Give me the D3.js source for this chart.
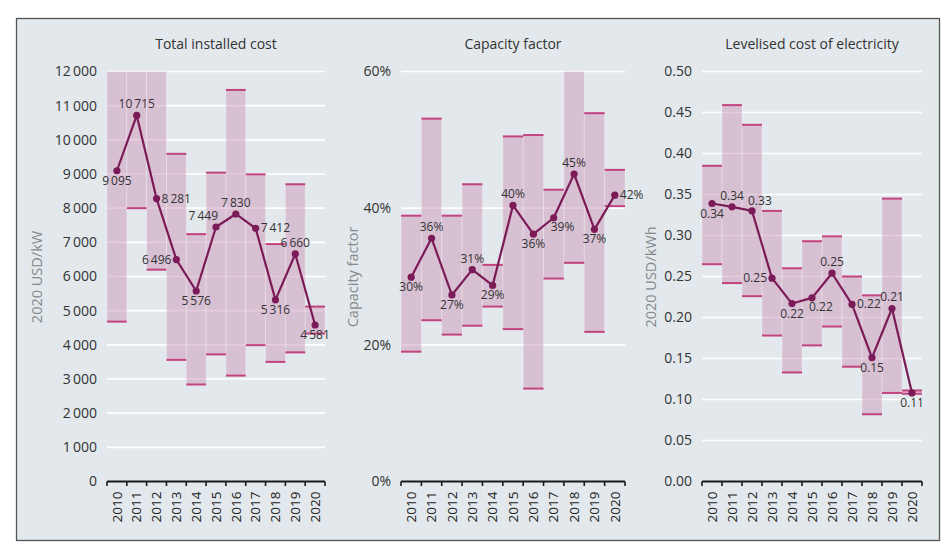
<!DOCTYPE html>
<html>
<head>
<meta charset="utf-8">
<script src="https://cdn.jsdelivr.net/npm/d3@7"></script>
<style>
  body { margin: 0; background: #fff; }
  svg { display: block; font-family: "Open Sans", sans-serif; }
</style>
</head>
<body>
<svg id="chart" width="948" height="551"></svg>
<script>
const years = [2010, 2011, 2012, 2013, 2014, 2015, 2016, 2017, 2018, 2019, 2020];

// total installed cost, 2020 USD/kW
const costLow = [4680, 8000, 6200, 3560, 2840, 3720, 3100, 3990, 3500, 3780, 4330];
const costHigh = [12500, 12500, 12500, 9590, 7240, 9040, 11460, 8990, 6950, 8700, 5120];
const costAvg = [9095, 10715, 8281, 6496, 5576, 7449, 7830, 7412, 5316, 6660, 4581];
const costTicks = [0, 1000, 2000, 3000, 4000, 5000, 6000, 7000, 8000, 9000, 10000, 11000, 12000];
const costLabelPos = ["below", "above", "right", "left", "below", "aboveLeft", "above", "right", "below", "above", "below"];

// capacity factor
const cfLow = [0.19, 0.236, 0.215, 0.228, 0.256, 0.223, 0.136, 0.297, 0.32, 0.219, 0.403];
const cfHigh = [0.389, 0.531, 0.389, 0.435, 0.317, 0.505, 0.507, 0.427, 0.62, 0.539, 0.456];
const cfAvg = [0.299, 0.356, 0.273, 0.31, 0.287, 0.404, 0.362, 0.386, 0.45, 0.369, 0.419];
const cfTicks = [0, 0.2, 0.4, 0.6];
const cfLabelPos = ["below", "above", "below", "above", "below", "above", "below", "belowRight", "above", "below", "right"];

// levelised cost of electricity, 2020 USD/kWh
const lcoeLow = [0.265, 0.242, 0.226, 0.178, 0.133, 0.166, 0.189, 0.14, 0.082, 0.108, 0.107];
const lcoeHigh = [0.385, 0.459, 0.435, 0.330, 0.260, 0.293, 0.299, 0.250, 0.227, 0.345, 0.111];
const lcoeAvg = [0.339, 0.335, 0.330, 0.248, 0.217, 0.224, 0.254, 0.216, 0.151, 0.211, 0.108];
const lcoeTicks = [0, 0.05, 0.1, 0.15, 0.2, 0.25, 0.3, 0.35, 0.4, 0.45, 0.5];
const lcoeLabelPos = ["below", "above", "aboveRight", "left", "below", "belowRight", "above", "right", "below", "above", "below"];

const svg = d3.select("#chart");

svg.append("rect")
  .attr("x", 16.5).attr("y", 18.5)
  .attr("width", 923).attr("height", 522)
  .attr("fill", "#e2e8eb")
  .attr("stroke", "#555")
  .attr("stroke-width", 1.3);

const spaceFmt = d3.formatLocale({ decimal: ".", thousands: "\u2009", grouping: [3], currency: ["", ""] }).format(",d");

const panels = [
  {
    title: "Total installed cost", yTitle: "2020 USD/kW",
    x0: 107, x1: 325, titleX: 216, yTitleX: 42,
    max: 12000, ticks: costTicks, tickFmt: spaceFmt, labelFmt: spaceFmt,
    low: costLow, high: costHigh, avg: costAvg, pos: costLabelPos
  },
  {
    title: "Capacity factor", yTitle: "Capacity factor",
    x0: 401, x1: 625, titleX: 513, yTitleX: 358,
    max: 0.6, ticks: cfTicks, tickFmt: d3.format(".0%"), labelFmt: d3.format(".0%"),
    low: cfLow, high: cfHigh, avg: cfAvg, pos: cfLabelPos
  },
  {
    title: "Levelised cost of electricity", yTitle: "2020 USD/kWh",
    x0: 702, x1: 922, titleX: 812, yTitleX: 656,
    max: 0.5, ticks: lcoeTicks, tickFmt: d3.format(".2f"), labelFmt: d3.format(".2f"),
    low: lcoeLow, high: lcoeHigh, avg: lcoeAvg, pos: lcoeLabelPos
  }
];

const yTop = 71.5, yBottom = 481.5;

panels.forEach(drawPanel);

function drawPanel(p) {
  const g = svg.append("g");
  const x = d3.scaleBand().domain(years).range([p.x0, p.x1]).padding(0);
  const y = d3.scaleLinear().domain([0, p.max]).range([yBottom, yTop]);
  const rows = years.map((yr, i) => ({ year: yr, low: p.low[i], high: p.high[i], avg: p.avg[i], pos: p.pos[i] }));

  g.append("text")
    .attr("x", p.titleX).attr("y", 49)
    .attr("text-anchor", "middle")
    .attr("font-size", 14)
    .attr("fill", "#333")
    .text(p.title);

  g.append("text")
    .attr("transform", `translate(${p.yTitleX},277) rotate(-90)`)
    .attr("text-anchor", "middle")
    .attr("font-size", 14.5)
    .attr("fill", "#858a8d")
    .text(p.yTitle);

  // gridlines
  g.append("g")
    .selectAll("line")
    .data(p.ticks.filter(t => t > 0))
    .join("line")
    .attr("x1", p.x0).attr("x2", p.x1)
    .attr("y1", d => y(d)).attr("y2", d => y(d))
    .attr("stroke", "#fff")
    .attr("stroke-width", 1.6);

  // y tick labels
  const yAxis = g.append("g")
    .attr("transform", `translate(${p.x0},0)`)
    .call(d3.axisLeft(y).tickValues(p.ticks).tickFormat(p.tickFmt).tickSize(0).tickPadding(10));
  yAxis.select(".domain").remove();
  yAxis.selectAll("text")
    .attr("font-family", "Open Sans, sans-serif")
    .attr("font-size", 14)
    .attr("fill", "#333");

  // range bars
  g.append("g")
    .selectAll("rect")
    .data(rows)
    .join("rect")
    .attr("x", d => x(d.year))
    .attr("width", x.bandwidth())
    .attr("y", d => y(Math.min(d.high, p.max)))
    .attr("height", d => y(d.low) - y(Math.min(d.high, p.max)))
    .attr("fill", "#ce97bb")
    .attr("fill-opacity", 0.5)
    .attr("stroke", "#fff")
    .attr("stroke-opacity", 0.35)
    .attr("stroke-width", 0.8);

  // caps
  const caps = g.append("g").attr("stroke", "#c2437f").attr("stroke-width", 2);
  caps.selectAll(".low")
    .data(rows)
    .join("line")
    .attr("class", "low")
    .attr("x1", d => x(d.year)).attr("x2", d => x(d.year) + x.bandwidth())
    .attr("y1", d => y(d.low)).attr("y2", d => y(d.low));
  caps.selectAll(".high")
    .data(rows.filter(d => d.high <= p.max))
    .join("line")
    .attr("class", "high")
    .attr("x1", d => x(d.year)).attr("x2", d => x(d.year) + x.bandwidth())
    .attr("y1", d => y(d.high)).attr("y2", d => y(d.high));

  // x axis
  const xAxis = g.append("g")
    .attr("transform", `translate(0,${yBottom})`)
    .call(d3.axisBottom(x).tickSize(0).tickPadding(10));
  xAxis.select(".domain").remove();
  xAxis.selectAll("text")
    .attr("font-family", "Open Sans, sans-serif")
    .attr("font-size", 13.5)
    .attr("fill", "#222")
    .attr("transform", "rotate(-90)")
    .attr("text-anchor", "end")
    .attr("dy", "0.35em")
    .attr("x", -10)
    .attr("y", 0);

  g.append("line")
    .attr("x1", p.x0).attr("x2", p.x1)
    .attr("y1", yBottom).attr("y2", yBottom)
    .attr("stroke", "#1a1a1a")
    .attr("stroke-width", 2);
  const bounds = years.map(yr => x(yr)).concat([p.x1]);
  g.append("g")
    .selectAll("line")
    .data(bounds)
    .join("line")
    .attr("x1", d => d).attr("x2", d => d)
    .attr("y1", yBottom).attr("y2", yBottom + 4.5)
    .attr("stroke", "#1a1a1a")
    .attr("stroke-width", 1.6);

  // average line
  const line = d3.line().x(d => x(d.year) + x.bandwidth() / 2).y(d => y(d.avg));
  g.append("path")
    .datum(rows)
    .attr("d", line)
    .attr("fill", "none")
    .attr("stroke", "#7a1b58")
    .attr("stroke-width", 2.2)
    .attr("stroke-linejoin", "round");

  g.append("g")
    .selectAll("circle")
    .data(rows)
    .join("circle")
    .attr("cx", d => x(d.year) + x.bandwidth() / 2)
    .attr("cy", d => y(d.avg))
    .attr("r", 3.6)
    .attr("fill", "#7a1b58");

  const place = {
    below: { dx: 0, dy: 14, anchor: "middle" },
    above: { dx: 0, dy: -7, anchor: "middle" },
    right: { dx: 5, dy: 4, anchor: "start" },
    left: { dx: -5, dy: 4, anchor: "end" },
    aboveLeft: { dx: 2, dy: -7, anchor: "end" },
    aboveRight: { dx: -4, dy: -6, anchor: "start" },
    belowRight: { dx: -3, dy: 13, anchor: "start" }
  };

  g.append("g")
    .selectAll("text")
    .data(rows)
    .join("text")
    .attr("x", d => x(d.year) + x.bandwidth() / 2 + place[d.pos].dx)
    .attr("y", d => y(d.avg) + place[d.pos].dy)
    .attr("text-anchor", d => place[d.pos].anchor)
    .attr("font-size", 12)
    .attr("fill", "#333")
    .text(d => p.labelFmt(d.avg));
}
</script>
</body>
</html>
